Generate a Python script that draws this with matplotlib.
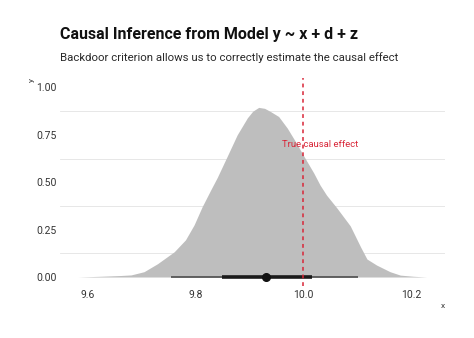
import matplotlib
matplotlib.use("Agg")
import matplotlib.pyplot as plt

# posterior density of the x coefficient
dens_x = [9.581, 9.624, 9.661, 9.680, 9.704, 9.729, 9.760, 9.781, 9.797, 9.812,
          9.828, 9.840, 9.859, 9.877, 9.896, 9.906, 9.917, 9.928, 9.939, 9.954,
          9.970, 9.985, 10.001, 10.019, 10.031, 10.043, 10.062, 10.087, 10.106,
          10.118, 10.136, 10.161, 10.180, 10.204, 10.229]
dens_y = [0.000, 0.004, 0.008, 0.011, 0.028, 0.070, 0.133, 0.196, 0.275, 0.371,
          0.460, 0.525, 0.640, 0.750, 0.840, 0.875, 0.895, 0.890, 0.873, 0.847,
          0.786, 0.716, 0.637, 0.550, 0.485, 0.432, 0.365, 0.270, 0.160,
          0.095, 0.063, 0.028, 0.010, 0.004, 0.000]

point_est = 9.930
interval_66 = [9.848, 10.016]
interval_95 = [9.755, 10.101]
true_effect = 10.0

y_ticks = [0.0, 0.25, 0.5, 0.75, 1.0]
grid_y = [0.125, 0.375, 0.625, 0.875]
x_ticks = [9.6, 9.8, 10.0, 10.2]

plt.rcParams["font.family"] = ["Roboto", "DejaVu Sans"]

fig = plt.figure(figsize=(4.74, 3.38), dpi=100)
ax = fig.add_axes([0.1266, 0.1524, 0.8122, 0.6168])

for g in grid_y:
    ax.axhline(g, color="#e3e3e3", lw=0.6, zorder=0)

ax.fill_between(dens_x, 0, dens_y, color="#bebebe", lw=0, zorder=1)

ax.plot(interval_95, [0, 0], color="#4d4d4d", lw=1.2, solid_capstyle="butt", zorder=2)
ax.plot(interval_66, [0, 0], color="#1a1a1a", lw=2.6, solid_capstyle="butt", zorder=3)
ax.plot([point_est], [0], "o", color="#111111", ms=5.5, zorder=4)

red = "#d92638"
ax.axvline(true_effect, color=red, lw=1.1, ls=(0, (2.5, 2.5)), zorder=5)
ax.text(10.031, 0.70, "True causal effect", color=red, fontsize=6.8,
        ha="center", va="center", zorder=6)

ax.set_xlim(9.548, 10.263)
ax.set_ylim(-0.05, 1.05)
ax.set_xticks(x_ticks)
ax.set_xticklabels(["9.6", "9.8", "10.0", "10.2"])
ax.set_yticks(y_ticks)
ax.set_yticklabels(["0.00", "0.25", "0.50", "0.75", "1.00"])
ax.tick_params(length=0, labelsize=7.5, colors="#333333", pad=2.5)
for s in ax.spines.values():
    s.set_visible(False)

fig.text(60 / 474, 1 - 35 / 338, "Causal Inference from Model y ~ x + d + z",
         fontsize=11.5, fontweight="bold", va="center", ha="left", color="#111111")
fig.text(60 / 474, 1 - 58 / 338,
         "Backdoor criterion allows us to correctly estimate the causal effect",
         fontsize=8.2, va="center", ha="left", color="#2a2a2a")
fig.text(32 / 474, 1 - 80 / 338, "y", fontsize=6, rotation=90, va="center",
         ha="center", color="#333333")
fig.text(443 / 474, 1 - 306 / 338, "x", fontsize=6, va="center", ha="center",
         color="#333333")

fig.savefig("out.png", dpi=100)
